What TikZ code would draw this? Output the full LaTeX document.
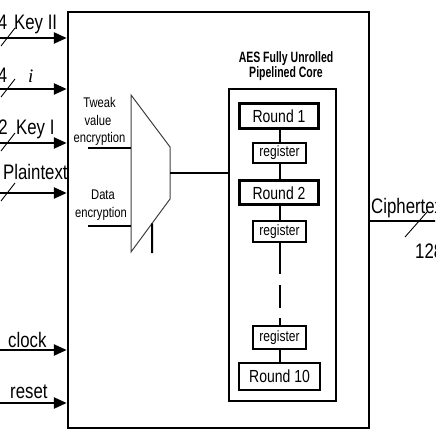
\documentclass[tikz,border=0pt]{standalone}
\usepackage{fontspec}
\setmainfont{Liberation Sans}[FakeStretch=0.8]
\newfontfamily\seriffont{Liberation Serif}
\newfontfamily\titlefont{Liberation Sans Bold}[FakeStretch=0.7]
\usetikzlibrary{arrows.meta,calc}
\begin{document}
\begin{tikzpicture}[x=1pt,y=-1pt,
  big/.style={font=\fontsize{21}{24}\selectfont, inner sep=0pt, anchor=base west},
  mid/.style={font=\fontsize{14}{17}\selectfont, inner sep=0pt, anchor=base},
  ttl/.style={font=\titlefont\fontsize{15}{17}\selectfont, inner sep=0pt, anchor=base},
  inarrow/.style={line width=2.5pt, -{Triangle[length=13pt,width=11pt]}},
  busslash/.style={line width=0.9pt},
  roundbox/.style={draw, line width=3pt, minimum width=79pt, inner sep=0pt, font=\fontsize{17.5}{20}\selectfont},
  regbox/.style={draw, line width=2pt, minimum width=53pt, inner sep=0pt, font=\fontsize{15}{18}\selectfont},
  conn/.style={line width=2pt},
  muxline/.style={line width=2pt}
]
\useasboundingbox (0,0) rectangle (435,435);
\clip (0,0) rectangle (435,435);

% main box
\node[draw, line width=2.5pt, minimum width=301pt, minimum height=416pt, inner sep=0pt] (main) at (218.5,220) {};
% core box
\node[draw, line width=2pt, minimum width=107pt, minimum height=312pt, inner sep=0pt] (core) at (282.5,245) {};
\node[ttl] (t1) at (286,63) {AES Fully Unrolled};
\node[ttl] (t2) at (286,77.5) {Pipelined Core};

% rounds and registers
\node[roundbox, minimum height=25pt] (r1) at (279,116.5) {Round 1};
\node[regbox, minimum height=20pt] (g1) at (279.5,153) {register};
\node[roundbox, minimum height=24pt] (r2) at (279,193) {Round 2};
\node[regbox, minimum height=21pt] (g2) at (279.5,231.5) {register};
\node[regbox, minimum height=23pt] (g3) at (279.5,337.5) {register};
\node[roundbox, line width=2.5pt, minimum width=81pt, minimum height=27pt] (r10) at (279.5,376.5) {Round 10};
\draw[conn] (r1.south -| g1.north) -- (g1.north);
\draw[conn] (g1.south) -- (g1.south |- r2.north);
\draw[conn] (r2.south -| g2.north) -- (g2.north);
\draw[conn, dash pattern=on 31pt off 11pt on 23pt off 10pt] (g2.south) -- (g3.north);
\draw[conn] (g3.south) -- (g3.south |- r10.north);

% multiplexer
\coordinate (m1) at (131,95);
\coordinate (m2) at (170,147);
\coordinate (m3) at (170,199);
\coordinate (m4) at (131,252);
\draw[line width=1pt, black!75] (m1) -- (m2) -- (m3) -- (m4) -- cycle;
\coordinate (mout) at ($(m2)!0.5!(m3)$);
\draw[muxline] (mout) -- (mout -| core.west);
\coordinate (sel) at ($(m3)!0.4615!(m4)$);
\coordinate (selend) at (152,253);
\draw[muxline] (sel) -- (selend);
\coordinate (twin) at (88,148);
\coordinate (dain) at (88,226);
\draw[muxline] (twin) -- (twin -| m1);
\draw[muxline] (dain) -- (dain -| m1);
\node[mid] (tw1) at (99.5,108) {Tweak};
\node[mid] (tw2) at (98,126) {value};
\node[mid] (tw3) at (99.5,143) {encryption};
\node[mid] (da1) at (103,200) {Data};
\node[mid] (da2) at (101,218) {encryption};

% inputs
\coordinate (inA) at (0,38);
\coordinate (inB) at (0,89);
\coordinate (inC) at (0,143);
\coordinate (inD) at (0,193);
\coordinate (inE) at (0,350);
\coordinate (inF) at (0,403);
\foreach \p in {inA,inB,inC,inD,inE,inF}
  \draw[inarrow] (\p) -- (\p -| main.west);
\foreach \p in {inA,inB,inC,inD}
  \draw[busslash] ($(\p)+(1,8)$) -- ($(\p)+(15,-10)$);

\node[big, anchor=base east] (wA) at (7.5,30) {4};
\node[big] (lA) at (14,30) {Key II};
\node[big, anchor=base east] (wB) at (7.5,83) {4};
\node[font=\seriffont\itshape\fontsize{19}{22}\selectfont, inner sep=0pt, anchor=base west] (lB) at (28,83) {i};
\node[big, anchor=base east] (wC) at (8,135) {2};
\node[big] (lC) at (16,135) {Key I};
\node[big] (lD) at (3,180) {Plaintext};
\node[big] (lE) at (8,347) {clock};
\node[big] (lF) at (10,398) {reset};

% output
\coordinate (out) at (440,221);
\draw[line width=2pt] (out -| main.east) -- (out);
\draw[busslash] (405,237) -- (427,212);
\node[big] (lO) at (371,214) {Ciphertext};
\node[big] (wO) at (415,258) {128};
\end{tikzpicture}
\end{document}
